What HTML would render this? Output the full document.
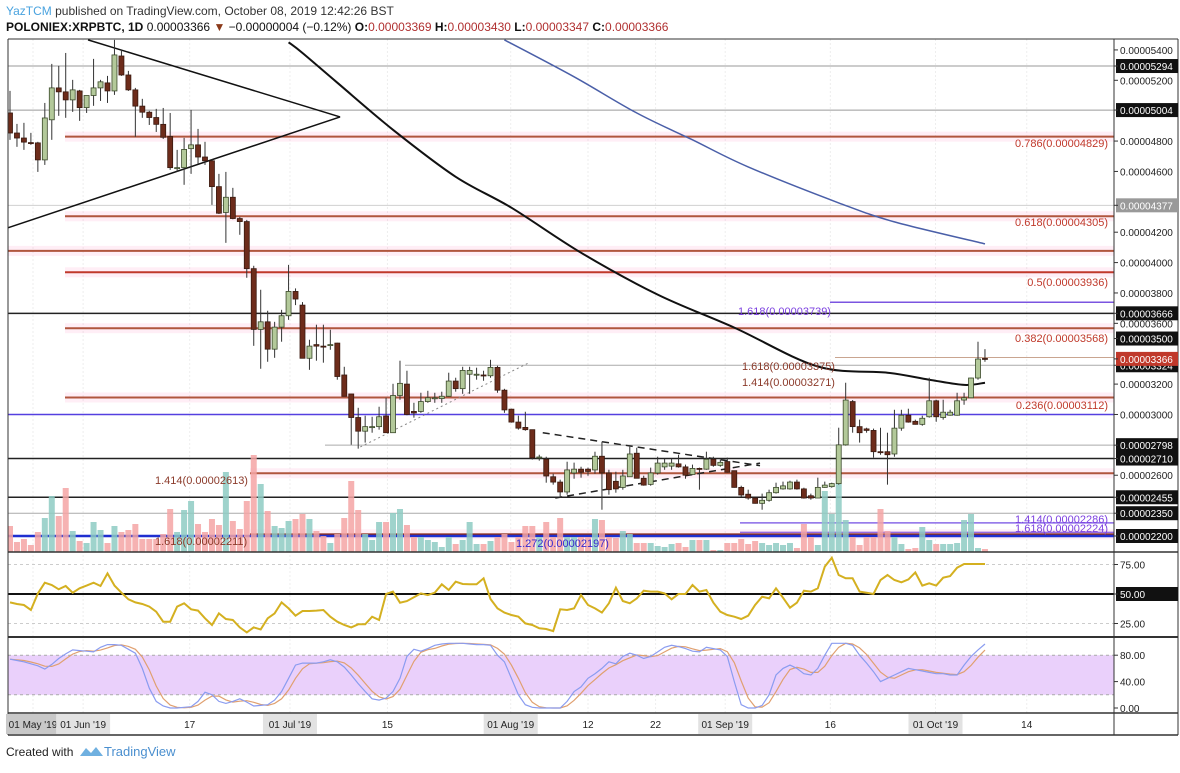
<!DOCTYPE html>
<html><head><meta charset="utf-8"><style>
html,body{margin:0;padding:0;background:#fff;}
body{width:1180px;height:768px;overflow:hidden;font-family:"Liberation Sans",sans-serif;}
svg text{font-family:"Liberation Sans",sans-serif;}
</style></head><body>
<svg id="chart" width="1180" height="768" viewBox="0 0 1180 768" xmlns="http://www.w3.org/2000/svg">
<text x="6" y="15" font-size="12" fill="#333"><tspan fill="#4aa3df">YazTCM</tspan> published on TradingView.com, October 08, 2019 12:42:26 BST</text>
<text x="6" y="31" font-size="12" fill="#111"><tspan font-weight="bold">POLONIEX:XRPBTC, 1D</tspan> 0.00003366 <tspan fill="#8b3a1a">▼</tspan> −0.00000004 (−0.12%) <tspan font-weight="bold">O:</tspan><tspan fill="#b03030">0.00003369</tspan> <tspan font-weight="bold">H:</tspan><tspan fill="#b03030">0.00003430</tspan> <tspan font-weight="bold">L:</tspan><tspan fill="#b03030">0.00003347</tspan> <tspan font-weight="bold">C:</tspan><tspan fill="#b03030">0.00003366</tspan></text>
<g id="grid"></g>
<g id="levels"></g>
<g id="vol"></g>
<g id="ma"></g>
<g id="draw"></g>
<g id="candles"></g>
<g id="rsi"></g>
<g id="stoch"></g>
<g id="axes"></g>
<g id="labels"></g>
<text x="6" y="756" font-size="12" fill="#222">Created with</text>
<g>
<path d="M80 756 l6 -8 l5 5 l5 -6 l7 9 z" fill="#6fb0e0"/>
<text x="104" y="756" font-size="13" fill="#4a8fcf">TradingView</text>
</g>
</svg>
<script>
const candles=[[4985,5130,4808,4853],[4853,4913,4762,4820],[4820,4920,4742,4793],[4790,4854,4775,4785],[4788,4795,4597,4676],[4676,5051,4643,4952],[4940,5308,4808,5150],[5150,5295,4966,5124],[5124,5380,4953,5071],[5071,5203,4992,5137],
[5130,5137,4933,5020],[5020,5097,4985,5100],[5100,5341,5032,5150],[5150,5203,5064,5190],[5183,5229,5051,5130],[5130,5466,5104,5367],[5360,5400,5229,5235],[5235,5262,5130,5137],[5137,5150,4828,5030],[5030,5078,4953,4990],
[4990,4999,4906,4955],[4955,5012,4860,4910],[4910,5018,4814,4825],[4830,4985,4610,4625],[4625,4742,4597,4625],[4625,4821,4512,4745],[4750,5005,4584,4775],[4775,4880,4650,4695],[4695,4795,4643,4670],[4670,4680,4380,4500],
[4500,4584,4320,4325],[4330,4597,4130,4430],[4430,4492,4285,4290],[4290,4301,4183,4270],[4270,4281,3900,3960],[3960,3979,3452,3560],[3560,3821,3301,3610],[3610,3683,3347,3430],[3430,3610,3373,3575],[3575,3689,3479,3650],
[3650,3985,3623,3810],[3810,3830,3720,3760],[3720,3740,3373,3370],
[3370,3492,3294,3450],[3460,3591,3354,3450],[3450,3591,3341,3445],[3455,3558,3426,3460],[3470,3472,3229,3250],[3260,3314,3123,3120],[3135,3136,2801,2980],[2980,3044,2775,2890],[2890,2992,2815,2920],[2915,2985,2880,2920],
[2920,3051,2900,2985],[2990,3110,2880,2880],[2880,3202,2880,3125],[3125,3354,3097,3205],[3200,3288,2995,3000],[3020,3077,2979,3010],[3020,3143,3011,3085],[3085,3156,3077,3110],[3110,3143,3077,3110],[3105,3150,3077,3120],
[3120,3275,3117,3220],[3220,3242,3150,3170],[3170,3314,3136,3290],[3265,3314,3136,3290],[3265,3308,3229,3265],[3260,3288,3222,3255],[3255,3360,3242,3310],[3310,3321,3143,3160],[3160,3169,3011,3030],[3035,3038,2946,2950],
[2950,2992,2900,2910],[2915,3018,2893,2900],[2900,2900,2703,2715],[2715,2735,2696,2720],[2705,2722,2551,2595],[2590,2610,2538,2555],[2555,2571,2452,2490],[2490,2689,2472,2635],[2615,2683,2577,2640],
[2640,2656,2584,2620],[2640,2650,2597,2625],[2635,2755,2610,2725],[2725,2821,2373,2615],[2615,2636,2472,2505],[2560,2623,2485,2510],[2520,2636,2505,2595],[2590,2788,2590,2740],[2745,2781,2584,2580],[2580,2597,2531,2535],
[2540,2650,2531,2615],[2615,2722,2604,2680],[2655,2709,2636,2680],[2660,2709,2636,2680],[2675,2735,2650,2655],[2655,2670,2577,2600],[2605,2670,2604,2645],[2645,2650,2505,2640],[2640,2755,2636,2705],[2705,2722,2656,2665],
[2665,2703,2656,2685],[2690,2716,2617,2620],[2630,2630,2518,2520],[2520,2531,2459,2470],[2475,2505,2439,2450],[2450,2452,2413,2415],[2415,2479,2373,2435],[2435,2505,2426,2485],[2485,2551,2479,2520],[2510,2558,2505,2530],
[2510,2564,2505,2555],[2555,2571,2505,2510],[2510,2518,2446,2450],[2465,2479,2439,2450],[2450,2584,2459,2520],[2520,2558,2518,2535],[2525,2551,2518,2545],[2545,2913,2538,2800],[2800,3209,2795,3095],[3085,3095,2880,2920],
[2920,2966,2815,2880],
[2905,2913,2880,2895],[2895,2907,2716,2755],[2755,2913,2735,2750],[2755,2880,2538,2735],[2740,3031,2722,2910],[2910,3031,2893,2995],[2995,3038,2946,2950],[2955,2966,2933,2935],[2935,2992,2926,2975],[2985,3242,2979,3090],
[3090,3097,2952,2985],[2980,3097,2966,3015],[2995,3031,2992,3015],[2995,3143,2992,3090],[3095,3143,3064,3110],[3110,3242,3110,3240],[3240,3479,3229,3365],[3369,3430,3347,3366]];
const volume=[26,10,13,7,20,34,56,36,64,21,11,9,30,22,9,26,20,22,28,13,13,13,18,43,20,42,51,28,20,33,27,80,31,23,51,97,68,41,26,24,31,33,38,33,21,16,9,18,34,71,42,18,12,30,30,39,43,27,15,15,12,10,5,15,8,12,30,8,8,11,15,
18,10,15,26,26,15,30,15,34,15,15,15,15,33,32,15,14,21,18,9,9,9,6,5,8,9,5,12,12,12,2,2,9,9,13,8,11,9,7,9,7,9,4,28,15,7,61,38,68,32,15,7,15,15,43,21,15,8,3,4,25,12,8,8,8,9,32,38,4,3];
const rsiValues=[42.9,41.5,40.7,36.4,50.5,59.6,57.6,54,56.8,51.1,54.8,57.1,59.6,56.8,67.5,57.1,51.1,45.5,42.9,41.5,39.3,35,26.5,26.5,39.3,42.1,37,35.9,29.4,23.7,33.6,28.8,28,21.7,17.5,21.7,20,29.4,33.6,42.9,37.8,31.6,35.6,35.6,35.9,36.4,30.8,26.5,23.7,21.7,24.3,24.3,30.8,28,50,52,42.6,44,47.2,50.5,49.1,51.1,58.2,53.4,60.4,58.5,58.2,58.2,63.3,45.8,
37.8,34.2,32.2,30.8,25.1,23.7,20.9,20.3,18.6,37,36.4,37.8,49.1,40.7,37.8,34.2,42.1,55.3,44.1,42.1,46.3,52.8,52,52,50.5,45.5,50,50,57.6,52,53.4,42.6,35,32.2,30.8,28.8,31.6,40.7,47.7,46.3,54.8,46.9,38.4,42.6,52.8,52,54.8,73.2,80.8,66.1,63.3,63.3,52,51.1,50,61.9,66.1,61.9,59.9,62.4,68.3,57.1,59.1,57.1,63.8,65.2,72.3,75.4,75.4,75.4,75.4];
const stochK=[74,72,70,67,64,59,66,75,82,88,87,86,85,92,96,96,95,89,83,60,30,10,3,0,0,1,2,10,24,20,10,7,10,14,9,3,4,5,12,25,45,65,68,68,68,70,73,70,62,50,37,25,14,12,15,25,45,78,89,86,90,95,97,98,98,98,97,96,96,95,80,70,45,20,5,1,0,0,0,0,10,25,32,45,52,60,70,67,78,83,80,75,78,85,92,95,93,90,86,85,92,90,88,78,40,5,0,0,4,20,50,60,65,60,52,50,60,80,98,98,98,95,80,68,55,40,45,50,55,60,58,56,54,52,52,50,50,65,78,88,97];
const maBlackIdx=[40,42,47,55,64,72,82,93,104,116,126,132,137,140];
const maBlackVal=[5450,5380,5184,4874,4565,4361,4065,3789,3572,3316,3275,3229,3195,3209];
const maBlueIdx=[71,81,90,98,106,119,127,140];
const maBlueVal=[5466,5223,4985,4808,4630,4393,4268,4123];
const priceTicks=[5400,5200,4800,4600,4200,4000,3800,3600,3200,3000,2600];
const rsiTicks=[75,50,25];
const stochTicks=[80,40,0];
const timeLabels=["01 May '19","01 Jun '19","17","01 Jul '19","15","01 Aug '19","12","22","01 Sep '19","16","01 Oct '19","14"];
const timeIdx=[3.3,10.5,25.8,40.2,54.2,71.9,83,92.7,102.7,117.8,132.9,146];

const NS="http://www.w3.org/2000/svg";
const L=8,R=1114,TOP=39,MB=552;
const X0=10,DX=6.964;
const xAt=i=>X0+i*DX;
const yP=p=>536-(p-2200)*0.1519;
const yR=v=>594-(v-50)*1.18;
const yS=v=>708-v*0.66;
function mk(parent,tag,attrs){const e=document.createElementNS(NS,tag);for(const k in attrs)e.setAttribute(k,attrs[k]);parent.appendChild(e);return e;}
const g=id=>document.getElementById(id);

const defs=mk(g('chart'),'defs',{});
const cp=mk(defs,'clipPath',{id:'mainclip'});mk(cp,'rect',{x:L,y:TOP,width:R-L,height:MB-TOP});
['levels','vol','ma','draw','candles'].forEach(id=>g(id).setAttribute('clip-path','url(#mainclip)'));

timeIdx.forEach(i=>{const x=xAt(i);if(x<R){const ln=mk(g('grid'),'line',{x1:x,x2:x,y1:TOP,y2:713,stroke:'#eee','stroke-width':1,'stroke-dasharray':'2,2'});

}});

const levels=[
 {p:5294,x1:L,c:'#9a9a9a',w:1},{p:5004,x1:L,c:'#9a9a9a',w:1},{p:4829,x1:65,c:'#b0563e',w:2,gl:1},
 {p:4377,x1:L,c:'#d0d0d0',w:1},{p:4305,x1:65,c:'#b0563e',w:2,gl:1},{p:4077,x1:L,c:'#b0563e',w:2,gl:1},
 {p:3936,x1:65,c:'#c0392b',w:2,gl:1},{p:3739,x1:830,c:'#7b55e0',w:1.5},{p:3666,x1:L,c:'#222',w:1.5},
 {p:3568,x1:65,c:'#b0563e',w:2,gl:1},{p:3375,x1:835,c:'#c9a590',w:1},{p:3324,x1:405,c:'#aaa',w:1},
 {p:3112,x1:65,c:'#b0563e',w:2,gl:1},{p:3000,x1:L,c:'#5540e0',w:1.5},{p:2798,x1:325,c:'#aaa',w:1},
 {p:2710,x1:L,c:'#222',w:1.5},{p:2613,x1:250,c:'#b0563e',w:2,gl:1},{p:2455,x1:L,c:'#222',w:1.5},
 {p:2350,x1:L,c:'#aaa',w:1},{p:2286,x1:740,c:'#8a6ae8',w:1.5},{p:2224,x1:740,c:'#8a6ae8',w:1.5},
 {p:2211,x1:250,c:'#8b2a1a',w:2,gl:1},{p:2200,x1:L,c:'#1f2fd0',w:2.5}];
levels.forEach(l=>{const y=yP(l.p);
 if(l.gl){const gr=mk(g('levels'),'rect',{x:l.x1,y:y-5,width:R-l.x1,height:10,fill:'rgba(255,90,170,0.10)'});
 
 }
 const ln=mk(g('levels'),'line',{x1:l.x1,x2:R,y1:y,y2:y,stroke:l.c,'stroke-width':l.w});
 
 });

volume.forEach((v,i)=>{const c=candles[i];if(!c)return;const up=c[3]>=c[0];
 const r=mk(g('vol'),'rect',{x:xAt(i)-3,y:MB-v,width:6,height:v,fill:up?'#8ecbc3':'#f4a4a4',opacity:0.85});
 
 });

function smoothPath(idx,val){const pts=idx.map((i,k)=>[xAt(i),yP(val[k])]);
 let d='M'+pts[0][0].toFixed(1)+' '+pts[0][1].toFixed(1);
 for(let k=0;k<pts.length-1;k++){const p0=pts[Math.max(0,k-1)],p1=pts[k],p2=pts[k+1],p3=pts[Math.min(pts.length-1,k+2)];
  const c1=[p1[0]+(p2[0]-p0[0])/6,p1[1]+(p2[1]-p0[1])/6],c2=[p2[0]-(p3[0]-p1[0])/6,p2[1]-(p3[1]-p1[1])/6];
  d+=' C'+c1[0].toFixed(1)+' '+c1[1].toFixed(1)+' '+c2[0].toFixed(1)+' '+c2[1].toFixed(1)+' '+p2[0].toFixed(1)+' '+p2[1].toFixed(1);}
 return d;}
const m1=mk(g('ma'),'path',{d:smoothPath(maBlackIdx,maBlackVal),fill:'none',stroke:'#111','stroke-width':2});


const m2=mk(g('ma'),'path',{d:smoothPath(maBlueIdx,maBlueVal),fill:'none',stroke:'#4a5fa8','stroke-width':1.5});



const drawings=[
 {a:[11.2,5466],b:[47.4,4959],s:'#111',w:1.5,d:''},
 {a:[-0.3,4229],b:[47.4,4959],s:'#111',w:1.5,d:''},
 {a:[50.3,2786],b:[74.7,3345],s:'#888',w:1,d:'2,3'},
 {a:[76.5,2880],b:[107.7,2663],s:'#222',w:1.5,d:'7,5'},
 {a:[78.3,2450],b:[107.7,2680],s:'#222',w:1.5,d:'7,5'}];
drawings.forEach(d=>{const ln=mk(g('draw'),'line',{x1:xAt(d.a[0]),y1:yP(d.a[1]),x2:xAt(d.b[0]),y2:yP(d.b[1]),stroke:d.s,'stroke-width':d.w,'stroke-dasharray':d.d});
 
 });

candles.forEach((c,i)=>{const [o,h,l,cl]=c;const x=xAt(i);const up=cl>=o;
 const hi=Math.max(h,o,cl),lo=Math.min(l,o,cl);
 const w=mk(g('candles'),'line',{x1:x,x2:x,y1:yP(hi),y2:yP(lo),stroke:'#333','stroke-width':1});
 
 
 const yt=yP(Math.max(o,cl)),yb=yP(Math.min(o,cl));
 const b=mk(g('candles'),'rect',{x:x-2.5,y:yt,width:5,height:Math.max(1,yb-yt),fill:up?'#b3c99a':'#6d2c1b',stroke:up?'#3b4a2a':'#3a1a10','stroke-width':0.8});
 
 });

const rg=g('rsi');
[75,25].forEach(v=>{const ln=mk(rg,'line',{x1:L,x2:R,y1:yR(v),y2:yR(v),stroke:'#ccc','stroke-dasharray':'3,3'});
 
 });
const r50=mk(rg,'line',{x1:L,x2:R,y1:yR(50),y2:yR(50),stroke:'#111','stroke-width':2});


const rp=mk(rg,'path',{d:rsiValues.map((v,i)=>(i?'L':'M')+xAt(i).toFixed(1)+' '+yR(v).toFixed(1)).join(' '),fill:'none',stroke:'#d4b020','stroke-width':2});



const sg=g('stoch');
const band=mk(sg,'rect',{x:L,y:yS(80),width:R-L,height:yS(20)-yS(80),fill:'#ead0fb'});


[80,20].forEach(v=>{const ln=mk(sg,'line',{x1:L,x2:R,y1:yS(v),y2:yS(v),stroke:'#aaa','stroke-dasharray':'3,3'});
 
 });
const stochD=stochK.map((v,i)=>{const a=stochK.slice(Math.max(0,i-2),i+1);return a.reduce((s,x)=>s+x,0)/a.length;});
const sd=mk(sg,'path',{d:stochD.map((v,i)=>(i?'L':'M')+xAt(i).toFixed(1)+' '+yS(v).toFixed(1)).join(' '),fill:'none',stroke:'#e0a070','stroke-width':1.2});


const sk=mk(sg,'path',{d:stochK.map((v,i)=>(i?'L':'M')+xAt(i).toFixed(1)+' '+yS(v).toFixed(1)).join(' '),fill:'none',stroke:'#8a9cf0','stroke-width':1.2});



const ax=g('axes');
function frame(x1,y1,x2,y2,w){const ln=mk(ax,'line',{x1,y1,x2,y2,stroke:'#333','stroke-width':w||1});
 
 }
frame(L,TOP,1178,TOP);frame(L,TOP,L,735);frame(R,TOP,R,735);frame(1178,TOP,1178,735);
frame(L,MB,1178,MB,1.5);frame(L,637,1178,637,2);frame(L,713,1178,713,1.5);frame(L,735,1178,735,1.5);

function axLabel(y,txt,bg,fg){
 if(bg){const r=mk(ax,'rect',{x:R+2,y:y-7,width:62,height:14,fill:bg});
 
 }
 const tk=mk(ax,'line',{x1:R,x2:R+4,y1:y,y2:y,stroke:'#333'});
 
 
 const t=mk(ax,'text',{x:R+6,y:y+4,'font-size':10,fill:fg||'#222'});t.textContent=txt;
 
 }
priceTicks.forEach(p=>axLabel(yP(p),'0.0000'+p));
[[5294,'#111'],[5004,'#111'],[4377,'#999'],[3666,'#111'],[3500,'#111'],[3324,'#111'],[2798,'#111'],[2710,'#111'],[2455,'#111'],[2350,'#111'],[2200,'#111']].forEach(a=>axLabel(yP(a[0]),'0.0000'+a[0],a[1],'#fff'));
axLabel(yP(3366),'0.00003366','#c0392b','#fff');
rsiTicks.forEach(v=>axLabel(yR(v),v.toFixed(2),v===50?'#111':null,v===50?'#fff':'#222'));
stochTicks.forEach(v=>axLabel(yS(v),v.toFixed(2)));
timeLabels.forEach((t,k)=>{const x=xAt(timeIdx[k]);if(x>R)return;const long=t.length>3;
 if(long){const r=mk(ax,'rect',{x:x-27,y:714,width:54,height:20,fill:k===0?'#c8c8c8':'#e2e2e2'});
 
 }
 const tx=mk(ax,'text',{x:x,y:728,'font-size':10,fill:'#222','text-anchor':'middle'});tx.textContent=t;
 
 });

const fibLabels=[
 [1108,147,'0.786(0.00004829)','#c0392b','end'],[1108,226,'0.618(0.00004305)','#c0392b','end'],
 [1108,286,'0.5(0.00003936)','#c0392b','end'],[1108,342,'0.382(0.00003568)','#c0392b','end'],
 [1108,409,'0.236(0.00003112)','#c0392b','end'],[738,315,'1.618(0.00003739)','#7b3fe0','start'],
 [742,370,'1.618(0.00003375)','#8b3a2a','start'],[742,386,'1.414(0.00003271)','#8b3a2a','start'],
 [155,484,'1.414(0.00002613)','#8b3a2a','start'],[155,545,'1.618(0.00002211)','#8b3a2a','start'],
 [516,547,'1.272(0.00002197)','#3a2ad0','start'],[1108,523,'1.414(0.00002286)','#7b3fe0','end'],
 [1108,532,'1.618(0.00002224)','#7b3fe0','end']];
fibLabels.forEach(f=>{const t=mk(g('labels'),'text',{x:f[0],y:f[1],'font-size':11,fill:f[3],'text-anchor':f[4]});t.textContent=f[2];
 
 });
</script>
</body></html>
